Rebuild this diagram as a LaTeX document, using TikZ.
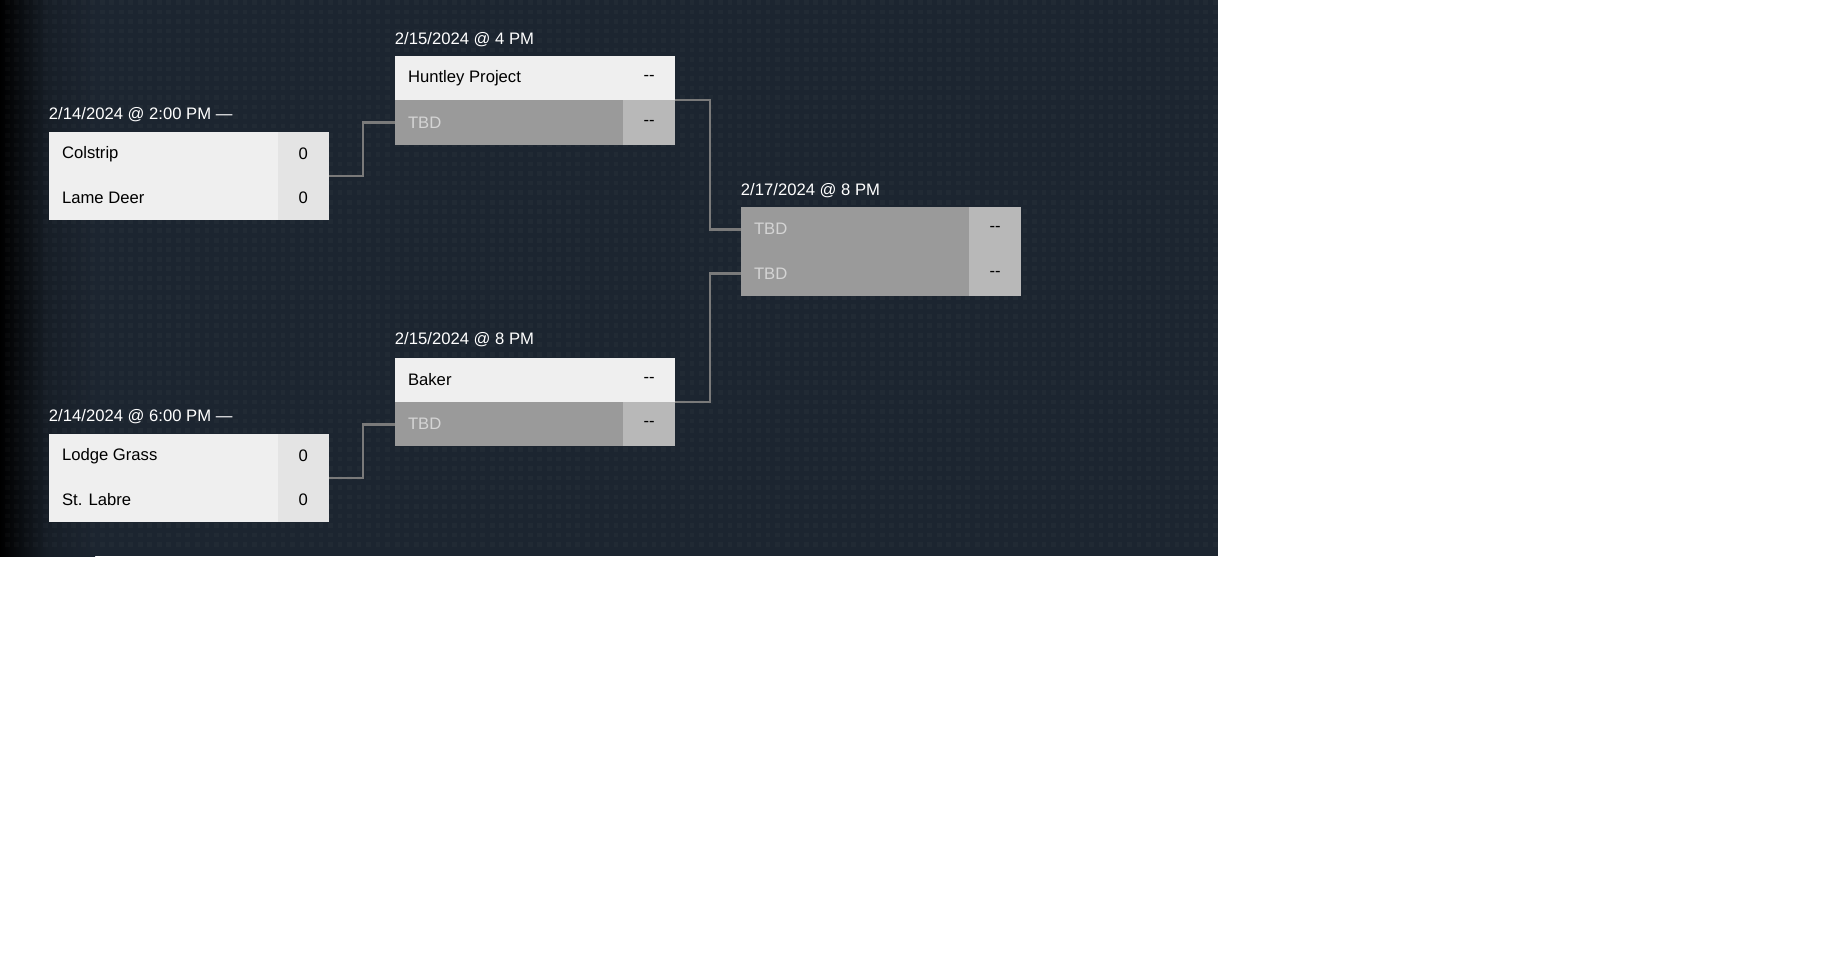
\documentclass[tikz,border=0pt]{standalone}
\usepackage{fontspec}
\setmainfont{Liberation Sans}
\begin{document}
\begin{tikzpicture}[x=1pt,y=-1pt,
  lite/.style={fill=rowlight,draw=none},
  dark/.style={fill=rowgray,draw=none},
  team/.style={anchor=west,font=\fontsize{14}{16}\selectfont,inner sep=0},
  date/.style={anchor=west,font=\fontsize{14}{16}\selectfont,text=white,inner sep=0},
  conn/.style={draw=linegray,line width=1.8pt}]
\definecolor{rowlight}{HTML}{EFEFEF}
\definecolor{scorelight}{HTML}{E4E4E4}
\definecolor{rowgray}{HTML}{9A9A9A}
\definecolor{scoregray}{HTML}{B8B8B8}
\definecolor{tbdtext}{HTML}{D4D4D4}
\definecolor{linegray}{HTML}{7A7A7A}
\definecolor{bgdark}{HTML}{1C2530}
\useasboundingbox (0,0) rectangle (1545,811);
\fill[white] (0,0) rectangle (1545,811);
\shade[left color=black,right color=bgdark,middle color=bgdark!80!black] (0,0) rectangle (80,468);
\fill[bgdark] (80,0) rectangle (1024,468);
\foreach \i in {0,8,...,1016}{\foreach \j in {0,8,...,460}{
  \fill[white,opacity=0.025] (\i+4,\j) rectangle (\i+8,\j+4);}}
% match macro-like drawing
% Match 1
\node[date] (d1) at (41,96) {2/14/2024 @ 2:00 PM ---};
\fill[rowlight] (41,111) rectangle (277,185);
\fill[scorelight] (234,111) rectangle (277,185);
\node[team] (t1a) at (52,129.5) {Colstrip};
\node[team] (t1b) at (52,166.5) {Lame Deer};
\node (s1a) at (255,129.5) {\fontsize{14}{16}\selectfont 0};
\node (s1b) at (255,166.5) {\fontsize{14}{16}\selectfont 0};
\coordinate (m1) at (277,148);
% Match 2
\node[date] (d2) at (41,350) {2/14/2024 @ 6:00 PM ---};
\fill[rowlight] (41,365) rectangle (277,439);
\fill[scorelight] (234,365) rectangle (277,439);
\node[team] (t2a) at (52,383.5) {Lodge Grass};
\node[team] (t2b) at (52,420.5) {St. Labre};
\node (s2a) at (255,383.5) {\fontsize{14}{16}\selectfont 0};
\node (s2b) at (255,420.5) {\fontsize{14}{16}\selectfont 0};
\coordinate (m2) at (277,402);
% Match 3
\node[date] (d3) at (332,33) {2/15/2024 @ 4 PM};
\fill[rowlight] (332,47) rectangle (568,84);
\fill[scorelight!60!white] (524,47) rectangle (568,84);
\fill[rowgray] (332,84) rectangle (568,122);
\fill[scoregray] (524,84) rectangle (568,122);
\node[team] (t3a) at (343,65.5) {Huntley Project};
\node[team,text=tbdtext] (t3b) at (343,103) {TBD};
\node (s3a) at (546,65.5) {\fontsize{14}{16}\selectfont -{}-};
\node (s3b) at (546,103) {\fontsize{14}{16}\selectfont -{}-};
\coordinate (i3) at (332,103);
\coordinate (m3) at (568,84);
% Match 4
\node[date] (d4) at (332,286) {2/15/2024 @ 8 PM};
\fill[rowlight] (332,301) rectangle (568,338);
\fill[scorelight!60!white] (524,301) rectangle (568,338);
\fill[rowgray] (332,338) rectangle (568,375);
\fill[scoregray] (524,338) rectangle (568,375);
\node[team] (t4a) at (343,319.5) {Baker};
\node[team,text=tbdtext] (t4b) at (343,356.5) {TBD};
\node (s4a) at (546,319.5) {\fontsize{14}{16}\selectfont -{}-};
\node (s4b) at (546,356.5) {\fontsize{14}{16}\selectfont -{}-};
\coordinate (i4) at (332,357);
\coordinate (m4) at (568,338);
% Final
\node[date] (d5) at (623,160) {2/17/2024 @ 8 PM};
\fill[rowgray] (623,174) rectangle (859,249);
\fill[scoregray] (815,174) rectangle (859,249);
\node[team,text=tbdtext] (t5a) at (634,192.5) {TBD};
\node[team,text=tbdtext] (t5b) at (634,230) {TBD};
\node (s5a) at (837,192.5) {\fontsize{14}{16}\selectfont -{}-};
\node (s5b) at (837,230) {\fontsize{14}{16}\selectfont -{}-};
\coordinate (i5a) at (623,193);
\coordinate (i5b) at (623,230);
% connectors
\draw[conn] (m1) -- ++(28,0) |- (i3);
\draw[conn] (m2) -- ++(28,0) |- (i4);
\draw[conn] (m3) -- ++(29,0) |- (i5a);
\draw[conn] (m4) -- ++(29,0) |- (i5b);
\end{tikzpicture}
\end{document}
